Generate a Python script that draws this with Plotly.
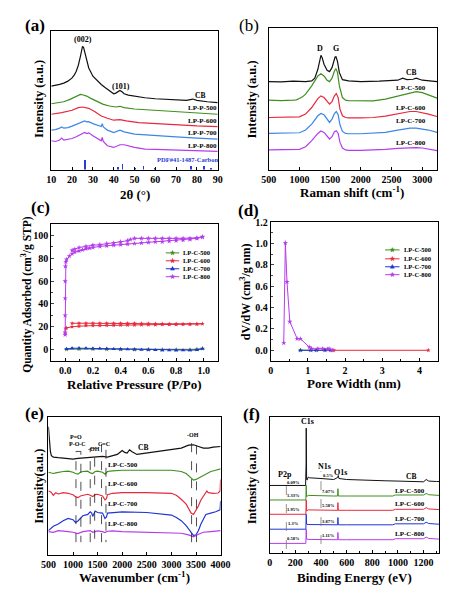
import math
import plotly.graph_objects as go

W, H = 474, 593
FONT = "Liberation Serif"
BLACK = "#111111"
GREEN = "#3f8f1f"
RED = "#e8283c"
BLUE_A = "#3d86e6"
BLUE = "#1f35d6"
PURPLE = "#b43cec"

# ---------------- (a) XRD ----------------
xrd_cb_x = [10,12,14,16,18,20,21,22,23,24,24.5,25,25.5,26,27,28,30,32,34,36,38,40,41,42,43,44,45,47,50,55,60,65,70,75,78,80,85,90]
xrd_cb_y = [84,84.7,85.7,87,89,92.3,95,99,105,114,120.7,124,123,119,110.7,102.3,94,89.7,85.7,82.3,79,76.3,77,78.3,79.7,78.3,76.3,75,73.7,72.3,71.3,70.7,70,69.7,71,69.7,68.3,67.3]
xrd_500_x = [10,13,16,19,21,23,24,25,27,29,31,33,35,38,41,43,45,50,55,60,70,80,90]
xrd_500_y = [66.3,67.3,68.3,70.7,73,75,75.7,75.3,74,71.7,69.7,67.3,65.7,64,63,63.7,62.3,61,60.3,59.7,58.3,57,55.7]
xrd_600_x = [10,15,20,23,25,28,31,34,37,40,43,46,52,60,70,80,90]
xrd_600_y = [55.7,57.3,59.7,62.3,63,61.7,58.3,54,51.7,49.7,50.3,49,47.3,46.3,45,44,43.3]
xrd_700_x = [10,12,14,15,16,18,20,22,24,26,27,28,30,32,34,34.5,35,37,40,43,45,50,60,70,80,90]
xrd_700_y = [39.7,40.3,41.7,43,41.7,42.3,43.7,45.7,47,49,48,48.3,46.3,45,43.3,46.3,43,39.7,37.3,39.7,38,35.7,34,33,31.7,30.7]
xrd_800_x = [10,12,14,15,16,18,20,22,24,26,27,28,30,32,34,34.5,35,37,40,43,45,50,55,60,70,80,90]
xrd_800_y = [29,28.3,29.7,31.7,29.7,30.3,31.3,33,35,37.3,36.3,37,34,31.7,29,32.3,28.3,24,22.3,25,25,22.3,20.7,20.3,19.7,19,18.3]
pdf_x = [26.4,42.2,44.4,50.6,54.5,59.8,77.4,83.5,86.8]
pdf_h = [9.7,3,6.3,2.3,4.3,2.3,4.3,3.7,2.3]

# ---------------- (b) Raman ----------------
ram_cb_x = [500,700,900,1100,1200,1250,1300,1330,1350,1370,1400,1450,1490,1530,1560,1580,1595,1620,1650,1700,1800,2000,2300,2500,2600,2680,2750,2850,2900,3000,3100,3240]
ram_cb_y = [88.3,88,88.7,88.3,89,91.7,100.7,110.7,114.7,112.3,105.7,99.7,98.3,102.3,109.7,113,113.3,108.3,97.3,90.3,89,88.3,88.7,89,89.7,91.7,90.3,90.7,91.7,89.7,89,88.3]
ram_500_x = [500,700,900,950,1000,1050,1100,1200,1300,1350,1400,1450,1490,1530,1570,1595,1620,1650,1700,1750,1800,2000,2200,2400,2600,2800,2900,3000,3100,3240]
ram_500_y = [69.7,69.3,69.7,70,71.3,73,75.7,84,94,96.3,94,89.7,88.3,91.7,99,101.3,97.3,84,72.3,69.7,69.3,69,69,70.7,74,77.3,78.3,77.3,75,71.7]
ram_x = [500,700,900,1000,1100,1200,1300,1350,1400,1450,1490,1530,1570,1600,1630,1660,1700,1750,1800,2000,2200,2400,2600,2800,2900,3000,3100,3240]
ram_600_y = [52.3,52.3,52.3,53,55.7,62.3,71.3,74,72.3,68,65.7,68.3,74,76.3,72.3,60.7,54,52.3,52,52,52.3,53.7,56.3,58.3,58.3,57.3,55.7,53.3]
ram_700_y = [36.3,36.3,36.3,37,39.7,45.7,54,56.3,55,50.7,47.3,50.7,56.3,58.3,55,45,38.3,36.3,36,36,36.3,37.3,39.7,41.7,41.7,41,39.7,37.3]
ram_800_y = [19.7,19.7,19.7,20.3,23,29,36.3,38.7,37.3,33,30.7,33,38,39,36.3,27.3,21.7,19.7,19.3,19.3,19.7,20.3,21.3,22,22,21.7,20.7,19]

# ---------------- (c) N2 isotherms ----------------
iso_800_x = [0.0,0.0,0.0,0.0,0.0,0.002,0.005,0.01,0.03,0.05,0.07,0.1,0.125,0.15,0.175,0.2,0.25,0.3,0.35,0.4,0.45,0.5,0.55,0.6,0.65,0.7,0.75,0.8,0.85,0.9,0.95,0.99,
             0.99,0.95,0.9,0.85,0.8,0.75,0.7,0.65,0.6,0.55,0.5,0.47,0.45,0.4,0.35,0.3,0.25,0.2,0.15,0.1,0.07,0.05]
iso_800_y = [13,15,30,45,60,73,77,79,82,84,85.5,86.5,87.5,88.5,89,89.5,90.5,91,91.5,92,92.5,93,93.5,94,94.5,94.5,95,95.5,96,96.5,97.5,98.5,
             99,98,97.5,97.5,97.5,97.5,97.5,97.5,97.5,97.5,97.5,96.5,95.5,94.5,93.5,93,92,91.5,90.5,89.5,88,87]
iso_600_x = [0.0,0.003,0.01,0.05,0.1,0.15,0.2,0.25,0.3,0.35,0.4,0.45,0.5,0.55,0.6,0.65,0.7,0.75,0.8,0.85,0.9,0.95,0.99,
             0.95,0.9,0.85,0.8,0.75,0.7,0.65,0.6,0.55,0.5,0.45,0.4,0.35,0.3,0.25,0.2,0.15,0.1,0.05]
iso_600_y = [14,18.5,19,20,20.5,21,21,21,21.2,21.3,21.4,21.5,21.6,21.7,21.8,21.8,21.9,22,22,22.1,22.2,22.3,22.6,
             22.4,22.3,22.3,22.4,22.5,22.6,22.7,22.8,22.9,23,23,23,23,23.1,23.1,23.1,23.1,23.1,23]
iso_700_x = [0.01,0.05,0.1,0.15,0.2,0.25,0.3,0.35,0.4,0.45,0.5,0.55,0.6,0.65,0.7,0.75,0.8,0.85,0.9,0.95,0.99]
iso_700_y = [0.5,1.2,1.2,1.1,1,0.9,0.7,0.5,0.3,0.2,0,-0.1,-0.2,-0.3,-0.5,-0.6,-0.6,-0.6,-0.5,-0.3,0.8]
iso_500_x = [0.01,0.1,0.2,0.3,0.4,0.5,0.6,0.7,0.8,0.9,0.95,0.99]
iso_500_y = [0.3,0.6,0.5,0.4,0.3,0.1,0,-0.2,-0.3,-0.2,0.2,0.9]

# ---------------- (d) pore size ----------------
psd_800_x = [0.353,0.396,0.44,0.516,0.714,0.8,1.04,1.1,1.27,1.4,1.53,1.57,1.66]
psd_800_y = [0.068,1.006,0.64,0.268,0.108,0.108,0.03,0.015,0.015,0.015,0.01,0.015,0.0]
psd_700_x = [0.8,1.08,1.23,1.46,1.62]
psd_700_y = [0,0,0,0,0]
psd_600_x = [1.7,4.24]
psd_600_y = [0,0]
psd_500_x = [0.8,1.08,1.23,1.46,1.62]
psd_500_y = [0,0,0,0,0]

# ---------------- (e) FTIR ----------------
ir_cb_x = [500,520,540,560,600,700,800,900,1000,1100,1200,1300,1400,1500,1600,1700,1800,1900,1950,2000,2050,2100,2150,2200,2300,2500,2800,3000,3200,3350,3450,3550,3650,3750,3850,4000]
ir_cb_y = [130,116.7,105,100.7,99.3,98.7,98,97.7,97.3,98,98.3,98.7,99.3,99,100,99.3,100.7,102,104,106,104,103.3,106.7,104.7,102,103.3,105,106.7,108.3,111.3,111.7,110,108.3,108.3,109.3,110]
ir_500_x = [500,550,600,650,700,800,900,1000,1050,1100,1150,1200,1300,1350,1400,1450,1500,1600,1650,1700,1800,2000,2500,3000,3200,3300,3400,3450,3500,3550,3600,3700,3800,3900,4000]
ir_500_y = [84,83.3,82.7,83.3,84,84.7,85,84,82.7,82,84,84.7,85,83.3,82.7,84.7,85,84,82,84.7,85.3,86,86,86,84.7,82.7,78.3,76,76.7,78,80,82.7,84.7,86,87.3]
ir_600_x = [500,550,600,650,700,800,900,1000,1050,1100,1150,1200,1300,1350,1400,1450,1500,1600,1650,1680,1700,1800,2000,2500,3000,3100,3200,3300,3350,3400,3450,3500,3550,3600,3700,3720,3750,3850,3950,3990,4000]
ir_600_y = [65,64,60.7,63.3,62,63.3,62.7,61.3,59.3,58.3,60,60.7,61.7,60.7,59.3,61.3,61.7,60,56,57.3,61.3,62.7,63.3,63.3,62.7,60.7,56.7,51.7,47.3,42.7,41.3,45,50,56,63.3,65,63.3,62.7,63,65,76.7]
ir_700_x = [500,550,600,700,800,900,1000,1050,1100,1200,1300,1350,1380,1400,1450,1500,1600,1650,1680,1700,1800,2000,2500,3000,3100,3200,3300,3400,3450,3500,3550,3600,3650,3700,3800,3900,3990,4000]
ir_700_y = [25,26.7,29.3,31.7,35,37.3,36,33.3,34.7,40,41.3,44,42.7,39.3,44.7,43.3,42.7,37.3,38.7,42.7,43.3,44,43.3,40.7,38.3,35,30,22.7,20,20.7,25,31.7,37.3,41.3,42.7,44,46,55]
ir_800_x = [500,600,700,800,900,1000,1050,1100,1200,1300,1350,1400,1450,1500,1600,1650,1700,1800,2000,2500,3000,3200,3350,3450,3550,3650,3800,4000]
ir_800_y = [24,23.3,25,24.7,24,23.3,22.3,22,24,24.7,25,23.3,24.3,24.7,24,23,24.3,24.7,24,23.3,22.7,22.3,20.7,18.7,21.3,23.3,24,25]
ir_band_pairs = [(1060,1160,105),(1350,1440,108.3),(1580,1670,112.3),(3410,3510,114.3)]
ir_band_bottom = 13.3

# ---------------- (f) XPS ----------------
xps_cb_x = [0,100,200,280,284,285,286,288,292,300,310,330,400,500,530,535,540,600,700,800,900,1000,1100,1200,1220,1240,1300,1320]
xps_cb_y = [68.3,68.3,68.3,68.3,91,126,97.7,74.3,73.7,76.7,76,75.7,75.3,74.3,76.3,78.3,75.3,74.3,73.7,73.3,73,72.7,72.3,72,74.3,72.7,72.3,72.3]
xps_x = [0,100,200,282,285,288,300,400,500,530,532,535,600,700,800,900,960,980,1100,1200,1220,1240,1320]
xps_500_y = [53.7,53.7,53.7,53.7,68.3,57,58.3,57.7,57.7,57.7,65,57.7,57.7,57.7,57.7,57.7,57.7,58.7,58.7,58.7,60.3,59,58.3]
xps_600_y = [39.3,39.3,39.3,39.3,53.7,42.7,43.7,43.3,43.3,43.3,51,43.3,43.3,43.3,43.3,43.3,43.3,44.3,44.3,44.3,46,44.7,44]
xps_700_y = [24.3,24.3,24.3,24.3,39.3,29.3,29,28.7,28.7,28.7,36,28.7,28.7,28.7,28.7,28.7,28.7,29.7,29.7,29.7,31.3,30,29.3]
xps_800_y = [10,10,10,10,24.3,14.3,14,13.7,13.7,13.7,21,13.7,13.7,13.7,13.7,13.7,13.7,14.7,14.7,14.7,16.3,15,14.3]
xps_p_pct = ["0.09%","1.33%","1.95%","1.3%","0.58%"]
xps_n_pct = ["0.5%","7.07%","5.58%","3.87%","1.11%"]
xps_p_pct_y = [71.5,58.3,44.3,30.3,15]
xps_n_pct_y = [78.7,62,47.7,32,17.7]
xps_guides = [(130,4.3,72.7),(400,9.3,82.7)]

labels_c = ["LP-C-500","LP-C-600","LP-C-700","LP-C-800"]

fig = go.Figure()

def line(x, y, color, ax, width=1.0):
    fig.add_trace(go.Scatter(x=x, y=y, mode="lines", line=dict(color=color, width=width),
                             xaxis="x"+ax, yaxis="y"+ax, showlegend=False, hoverinfo="skip"))

# (a)
for xs, ys, c in [(xrd_cb_x, xrd_cb_y, BLACK), (xrd_500_x, xrd_500_y, GREEN), (xrd_600_x, xrd_600_y, RED),
                  (xrd_700_x, xrd_700_y, BLUE_A), (xrd_800_x, xrd_800_y, PURPLE)]:
    line(xs, ys, c, "", 1.2)
fig.add_trace(go.Bar(x=pdf_x, y=pdf_h, width=0.35, marker=dict(color="#2a3ad8", line=dict(width=0)),
                     xaxis="x", yaxis="y", showlegend=False))
# (b)
for xs, ys, c in [(ram_cb_x, ram_cb_y, BLACK), (ram_500_x, ram_500_y, GREEN), (ram_x, ram_600_y, RED),
                  (ram_x, ram_700_y, BLUE_A), (ram_x, ram_800_y, PURPLE)]:
    line(xs, ys, c, "2", 1.2)
# (c)
for xs, ys, c, sym, sz in [(iso_500_x, iso_500_y, GREEN, "star", 4), (iso_600_x, iso_600_y, RED, "star", 3.5),
                           (iso_700_x, iso_700_y, BLUE, "triangle-up", 4), (iso_800_x, iso_800_y, PURPLE, "star", 4)]:
    fig.add_trace(go.Scatter(x=xs, y=ys, mode="lines+markers", line=dict(color=c, width=1),
                             marker=dict(symbol=sym, size=sz, color=c), xaxis="x3", yaxis="y3", showlegend=False))
# (d)
for xs, ys, c, sym, sz in [(psd_500_x, psd_500_y, GREEN, "star", 4), (psd_600_x, psd_600_y, RED, "star", 3.5),
                           (psd_700_x, psd_700_y, BLUE, "triangle-up", 4), (psd_800_x, psd_800_y, PURPLE, "star", 4)]:
    fig.add_trace(go.Scatter(x=xs, y=ys, mode="lines+markers", line=dict(color=c, width=1),
                             marker=dict(symbol=sym, size=sz, color=c), xaxis="x4", yaxis="y4", showlegend=False))
# (e)
for xs, ys, c in [(ir_cb_x, ir_cb_y, BLACK), (ir_500_x, ir_500_y, GREEN), (ir_600_x, ir_600_y, RED),
                  (ir_700_x, ir_700_y, BLUE), (ir_800_x, ir_800_y, PURPLE)]:
    line(xs, ys, c, "5", 1.2)
for a, b, top in ir_band_pairs:
    fig.add_trace(go.Scatter(x=[a, a, b, b], y=[ir_band_bottom, top, top, ir_band_bottom], mode="lines",
                             line=dict(color="#222222", width=0.8, dash="dash"), xaxis="x5", yaxis="y5",
                             showlegend=False, hoverinfo="skip"))
# (f)
for xs, ys, c in [(xps_x, xps_500_y, GREEN), (xps_x, xps_600_y, RED),
                  (xps_x, xps_700_y, BLUE), (xps_x, xps_800_y, PURPLE), (xps_cb_x, xps_cb_y, BLACK)]:
    line(xs, ys, c, "6")
for gx, g0, g1 in xps_guides:
    fig.add_trace(go.Scatter(x=[gx, gx], y=[g0, g1], mode="lines", line=dict(color="#777777", width=0.8, dash="dash"),
                             xaxis="x6", yaxis="y6", showlegend=False, hoverinfo="skip"))

def px(x): return x / W
def py(y): return 1 - y / H

tickfont = dict(family=FONT, size=10, color="black", weight="bold")

def xax(l, r, anchor, rng, dtick, tick0=None, **kw):
    d = dict(domain=[px(l), px(r)], anchor=anchor, range=rng, dtick=dtick, showline=True, mirror=True,
             linecolor="black", linewidth=1, ticks="inside", ticklen=3, tickwidth=1, tickcolor="black",
             showgrid=False, zeroline=False, tickfont=tickfont)
    if tick0 is not None:
        d["tick0"] = tick0
    d.update(kw)
    return d

def yax(t, b, anchor, rng, labels=False, dtick=None, **kw):
    d = dict(domain=[py(b), py(t)], anchor=anchor, range=rng, showline=True, mirror=True, linecolor="black",
             linewidth=1, showgrid=False, zeroline=False, showticklabels=labels,
             ticks="inside" if labels else "", ticklen=3, tickfont=tickfont)
    if dtick is not None:
        d["dtick"] = dtick
    d.update(kw)
    return d

layout = dict(
    width=W, height=H, margin=dict(l=0, r=0, t=0, b=0), paper_bgcolor="white", plot_bgcolor="white",
    showlegend=False, bargap=0,
    xaxis=xax(45, 218, "y", [10, 90], 10, 10),
    yaxis=yax(26, 166, "x", [0, 139.7]),
    xaxis2=xax(271, 446, "y2", [500, 3240], 500, 500),
    yaxis2=yax(23, 166, "x2", [0, 142.3]),
    xaxis3=xax(45, 218, "y3", [-0.1, 1.1], 0.2, 0, tickformat=".1f", minor=dict(ticks="inside", dtick=0.1, ticklen=2)),
    yaxis3=yax(221, 359, "x3", [-10, 110], True, 20, tick0=0, minor=dict(ticks="inside", dtick=10, ticklen=2)),
    xaxis4=xax(273, 447, "y4", [0, 4.5], 1, 0, minor=dict(ticks="inside", dtick=0.5, ticklen=2)),
    yaxis4=yax(219, 359, "x4", [-0.1, 1.2], True, 0.2, tick0=0, tickformat=".1f",
               minor=dict(ticks="inside", dtick=0.1, ticklen=2)),
    xaxis5=xax(42, 221, "y5", [500, 4000], 500, 500),
    yaxis5=yax(416, 555, "x5", [0, 139.3]),
    xaxis6=xax(272, 448, "y6", [0, 1320], 200, 0, minor=dict(ticks="inside", dtick=100, ticklen=2)),
    yaxis6=yax(415, 553, "x6", [0, 137.7]),
)
fig.update_layout(**layout)

ann = []
def A(text, x, y, size=8, ref="", bold=True, color="black", xanchor="center", yanchor="middle", angle=0):
    t = f"<b>{text}</b>" if bold else text
    d = dict(text=t, x=x, y=y, showarrow=False, font=dict(family=FONT, size=size, color=color),
             xanchor=xanchor, yanchor=yanchor, textangle=angle)
    if ref == "paper":
        d.update(xref="paper", yref="paper")
    else:
        d.update(xref="x" + ref, yref="y" + ref)
    ann.append(d)

# panel labels
A("(a)", px(28), py(21), 17, "paper")
A("(b)", px(250), py(21), 17, "paper", bold=False)
A("(c)", px(34), py(204), 17, "paper")
A("(d)", px(250), py(207), 17, "paper")
A("(e)", px(28), py(412), 17, "paper")
A("(f)", px(253), py(413), 17, "paper")

# axis titles
A("Intensity (a.u.)", px(32), py(95), 12.5, "paper", angle=-90)
A("2θ (°)", px(132), py(191), 13, "paper")
A("Intensity (a.u.)", px(254), py(95), 12.5, "paper", angle=-90)
A("Raman shift (cm<sup>-1</sup>)", px(358), py(189), 13, "paper")
A("Quantity Adsorbed (cm<sup>3</sup>/g STP)", px(19), py(292), 11.5, "paper", angle=-90)
A("Relative Pressure (P/Po)", px(132), py(383), 13, "paper")
A("dV/dW (cm<sup>3</sup>/g nm)", px(247), py(289), 12, "paper", angle=-90)
A("Pore Width (nm)", px(360), py(382), 13, "paper")
A("Intensity(a.u.)", px(32), py(485), 12.5, "paper", angle=-90)
A("Wavenumber (cm<sup>-1</sup>)", px(132), py(577), 13, "paper")
A("Intensity (a.u.)", px(254), py(484), 12.5, "paper", angle=-90)
A("Binding Energy (eV)", px(360), py(577), 13, "paper")

# (a) labels
A("(002)", 25, 130.7, 8, "")
A("(101)", 43.7, 84, 8, "")
A("CB", 81.5, 75, 7.5, "")
for t, yv in zip(["LP-P-500","LP-P-600","LP-P-700","LP-P-800"], [62.3, 49, 37.3, 24]):
    A(t, 82.7, yv, 7, "")
A("PDF#41-1487-Carbon", 75.3, 10.5, 6.5, "", color="#2a3ad8")

# (b) labels
A("D", 1340, 121.7, 8, "2")
A("G", 1590, 121.7, 8, "2")
A("CB", 2818, 97.3, 7.5, "2")
for t, yv in zip(labels_c, [82.3, 61.7, 49, 26.3]):
    A(t, 2823, yv, 7, "2")

# (e) labels
A("P=O", 1066, 119.3, 6, "5")
A("P-O-C", 1100, 112.3, 6, "5")
A("-OH", 1420, 107.7, 6, "5")
A("C=C", 1640, 112.5, 6, "5")
A("-OH", 3447, 121.7, 6, "5")
A("CB", 2428, 109.3, 7.5, "5")
for t, yv in zip(labels_c, [91, 71.7, 51.7, 31.7]):
    A(t, 2013, yv, 7, "5")

# (f) labels
A("C1s", 298, 132.7, 8, "6")
A("P2p", 118, 79.5, 8, "6")
A("N1s", 424, 87.5, 8, "6")
A("O1s", 555, 81, 8, "6")
A("CB", 1105, 77.7, 7.5, "6")
for t, yv in zip(labels_c, [62.7, 49.3, 34.3, 19.3]):
    A(t, 1092, yv, 7, "6")
for t, yv in zip(xps_p_pct, xps_p_pct_y):
    A(t, 184, yv, 4.5, "6")
for t, yv in zip(xps_n_pct, xps_n_pct_y):
    A(t, 461, yv, 4.5, "6")

# manual legends for (c) and (d): sample line + drawn marker shape + text
shapes = []
leg_colors = [GREEN, RED, BLUE, PURPLE]
leg_kinds = ["star", "star", "tri", "star"]

def star_path(cx, cy, r):
    pts = []
    for k in range(10):
        ang = -math.pi / 2 + k * math.pi / 5
        rr = r if k % 2 == 0 else r * 0.45
        pts.append((px(cx + rr * math.cos(ang)), py(cy + rr * math.sin(ang))))
    return "M " + " L ".join(f"{a:.5f} {b:.5f}" for a, b in pts) + " Z"

def tri_path(cx, cy, r):
    pts = [(cx, cy - r), (cx + r * 0.9, cy + r * 0.6), (cx - r * 0.9, cy + r * 0.6)]
    return "M " + " L ".join(f"{px(a):.5f} {py(b):.5f}" for a, b in pts) + " Z"

for (x0, x1, xt, ys) in [(164, 178, 180, [250, 258, 266, 274]), (392, 407, 410, [247, 256, 264, 272])]:
    for t, c, kind, yy in zip(labels_c, leg_colors, leg_kinds, ys):
        shapes.append(dict(type="line", xref="paper", yref="paper", x0=px(x0), x1=px(x1), y0=py(yy), y1=py(yy),
                           line=dict(color=c, width=1)))
        cx = (x0 + x1) / 2
        path = star_path(cx, yy, 2.3) if kind == "star" else tri_path(cx, yy, 2.3)
        shapes.append(dict(type="path", xref="paper", yref="paper", path=path,
                           fillcolor=c, line=dict(color=c, width=0.5)))
        A(t, px(xt), py(yy), 6.5, "paper", xanchor="left")

fig.update_layout(annotations=ann, shapes=shapes)
fig.write_html("out.html")
